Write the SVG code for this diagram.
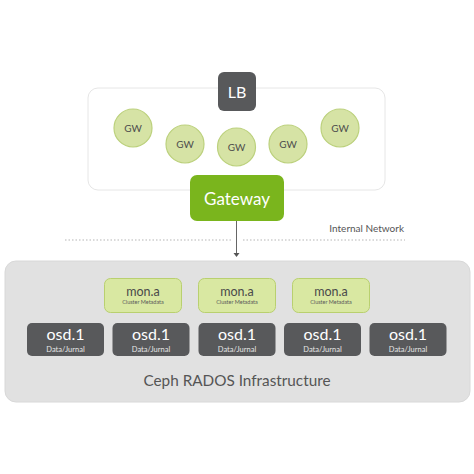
<svg xmlns="http://www.w3.org/2000/svg" width="474" height="474" viewBox="0 0 474 474">
<defs>
<style>
text{font-family:Lato,"Open Sans","DejaVu Sans",sans-serif;text-anchor:middle}
.gw circle{fill:#d6e3a5;stroke:#bcd17d;stroke-width:1.2}
.gw text{font-size:10px;fill:#4d4d4d}
.mon rect{fill:#d9e8a2;stroke:#b9d06f;stroke-width:1}
.osd rect{fill:#58595b}
.t1{font-size:12.5px;fill:#4a4a4a}
.t2{font-size:5.5px;fill:#5a5a5a}
.o1{font-size:16px;fill:#fff}
.o2{font-size:7.5px;fill:#e6e6e6}
</style>
</defs>
<rect width="474" height="474" fill="#fff"/>
<g id="gw-container"><rect x="88" y="88" width="297" height="102" rx="10" fill="#fff" stroke="#e6e6e6" stroke-width="1"/></g>
<g id="lb"><rect x="218" y="72" width="38" height="39" rx="6" fill="#58595b"/><text x="237" y="98" style="font-size:16px;fill:#fff">LB</text></g>
<g id="gw1" class="gw"><circle cx="133" cy="128" r="19"/><text x="133" y="132">GW</text></g>
<g id="gw2" class="gw"><circle cx="185" cy="144" r="19"/><text x="185" y="148">GW</text></g>
<g id="gw3" class="gw"><circle cx="236.5" cy="147" r="19"/><text x="236.5" y="151">GW</text></g>
<g id="gw4" class="gw"><circle cx="288" cy="144" r="19"/><text x="288" y="148">GW</text></g>
<g id="gw5" class="gw"><circle cx="340" cy="128" r="19"/><text x="340" y="132">GW</text></g>
<g id="gateway"><rect x="190" y="175" width="94" height="46" rx="7" fill="#7ab51d"/><text x="237" y="205" style="font-size:17px;fill:#fff">Gateway</text></g>
<g id="network">
<line x1="65" y1="240" x2="231" y2="240" stroke="#b5b5b5" stroke-width="1.2" stroke-dasharray="1.5 2"/>
<line x1="243" y1="240" x2="405" y2="240" stroke="#b5b5b5" stroke-width="1.2" stroke-dasharray="1.5 2"/>
<text x="404" y="232" style="font-size:10px;fill:#555;text-anchor:end">Internal Network</text>
</g>
<g id="connectors">
<line x1="236.5" y1="221" x2="236.5" y2="253" stroke="#666" stroke-width="1"/>
<path d="M233.5,253 L239.5,253 L236.5,257 Z" fill="#555"/>
</g>
<g id="rados"><rect x="5" y="261" width="465" height="141" rx="11" fill="#e1e1e1" stroke="#d8d8d8" stroke-width="1"/>
<text x="237" y="386" style="font-size:15.3px;fill:#555">Ceph RADOS Infrastructure</text></g>
<g id="mon1" class="mon"><rect x="104.5" y="278.5" width="77" height="34" rx="6"/><text class="t1" x="143" y="296">mon.a</text><text class="t2" x="143" y="303.5">Cluster Metadata</text></g>
<g id="mon2" class="mon"><rect x="198.5" y="278.5" width="77" height="34" rx="6"/><text class="t1" x="237" y="296">mon.a</text><text class="t2" x="237" y="303.5">Cluster Metadata</text></g>
<g id="mon3" class="mon"><rect x="292.5" y="278.5" width="77" height="34" rx="6"/><text class="t1" x="331" y="296">mon.a</text><text class="t2" x="331" y="303.5">Cluster Metadata</text></g>
<g id="osd1" class="osd"><rect x="27" y="323" width="77" height="33" rx="5"/><text class="o1" x="65.5" y="339.5">osd.1</text><text class="o2" x="65.5" y="351.5">Data/Jurnal</text></g>
<g id="osd2" class="osd"><rect x="112.5" y="323" width="77" height="33" rx="5"/><text class="o1" x="151" y="339.5">osd.1</text><text class="o2" x="151" y="351.5">Data/Jurnal</text></g>
<g id="osd3" class="osd"><rect x="198.5" y="323" width="77" height="33" rx="5"/><text class="o1" x="237" y="339.5">osd.1</text><text class="o2" x="237" y="351.5">Data/Jurnal</text></g>
<g id="osd4" class="osd"><rect x="284" y="323" width="77" height="33" rx="5"/><text class="o1" x="322.5" y="339.5">osd.1</text><text class="o2" x="322.5" y="351.5">Data/Jurnal</text></g>
<g id="osd5" class="osd"><rect x="369.5" y="323" width="77" height="33" rx="5"/><text class="o1" x="408" y="339.5">osd.1</text><text class="o2" x="408" y="351.5">Data/Jurnal</text></g>
</svg>
